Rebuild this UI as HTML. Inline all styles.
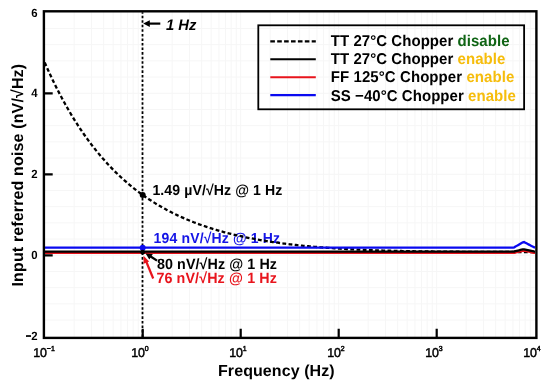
<!DOCTYPE html>
<html><head><meta charset="utf-8"><title>Input referred noise</title>
<style>
html,body{margin:0;padding:0;background:#fff;}
svg{display:block;text-rendering:geometricPrecision;font-family:'Liberation Sans', Arial, sans-serif;}
</style></head>
<body>
<svg width="550" height="386" viewBox="0 0 550 386">
<rect width="550" height="386" fill="#fff"/>
<path d="M74.20 11.3V337.9 M91.46 11.3V337.9 M103.70 11.3V337.9 M113.20 11.3V337.9 M120.96 11.3V337.9 M127.52 11.3V337.9 M133.20 11.3V337.9 M138.22 11.3V337.9 M142.70 11.3V337.9 M172.20 11.3V337.9 M189.46 11.3V337.9 M201.70 11.3V337.9 M211.20 11.3V337.9 M218.96 11.3V337.9 M225.52 11.3V337.9 M231.20 11.3V337.9 M236.22 11.3V337.9 M240.70 11.3V337.9 M270.20 11.3V337.9 M287.46 11.3V337.9 M299.70 11.3V337.9 M309.20 11.3V337.9 M316.96 11.3V337.9 M323.52 11.3V337.9 M329.20 11.3V337.9 M334.22 11.3V337.9 M338.70 11.3V337.9 M368.20 11.3V337.9 M385.46 11.3V337.9 M397.70 11.3V337.9 M407.20 11.3V337.9 M414.96 11.3V337.9 M421.52 11.3V337.9 M427.20 11.3V337.9 M432.22 11.3V337.9 M436.70 11.3V337.9 M466.20 11.3V337.9 M483.46 11.3V337.9 M495.70 11.3V337.9 M505.20 11.3V337.9 M512.96 11.3V337.9 M519.52 11.3V337.9 M525.20 11.3V337.9 M530.22 11.3V337.9 M43.9 320.10H536.4 M43.9 303.90H536.4 M43.9 287.70H536.4 M43.9 271.50H536.4 M43.9 255.30H536.4 M43.9 239.10H536.4 M43.9 222.90H536.4 M43.9 206.70H536.4 M43.9 190.50H536.4 M43.9 174.30H536.4 M43.9 158.10H536.4 M43.9 141.90H536.4 M43.9 125.70H536.4 M43.9 109.50H536.4 M43.9 93.30H536.4 M43.9 77.10H536.4 M43.9 60.90H536.4 M43.9 44.70H536.4 M43.9 28.50H536.4" stroke="#f6f6f6" stroke-width="1" fill="none"/>
<text transform="translate(152.40 195.00) scale(1 1.04)" font-size="14.1" font-weight="bold" textLength="130" lengthAdjust="spacing">1.49 µV/√Hz @ 1 Hz</text>
<text transform="translate(153.60 242.60) scale(1 1.04)" font-size="14" font-weight="bold" fill="#1414e6" textLength="126.5" lengthAdjust="spacing">194 nV/√Hz @ 1 Hz</text>
<text transform="translate(157.00 269.40) scale(1 1.04)" font-size="14.3" font-weight="bold" textLength="120" lengthAdjust="spacing">80 nV/√Hz @ 1 Hz</text>
<text transform="translate(156.40 283.40) scale(1 1.04)" font-size="14.3" font-weight="bold" fill="#e8141c" textLength="120.5" lengthAdjust="spacing">76 nV/√Hz @ 1 Hz</text>
<path d="M142.5 12.3V336.9" stroke="#000" stroke-width="1.8" stroke-dasharray="2.55 2.006" stroke-dashoffset="1.2" fill="none"/>
<path d="M44.70 62.51 L45.93 65.29 L47.15 68.03 L48.38 70.74 L49.60 73.40 L50.83 76.03 L52.06 78.62 L53.28 81.17 L54.51 83.68 L55.73 86.16 L56.96 88.60 L58.19 91.01 L59.41 93.38 L60.64 95.72 L61.86 98.02 L63.09 100.29 L64.32 102.53 L65.54 104.73 L66.77 106.91 L67.99 109.05 L69.22 111.16 L70.45 113.24 L71.67 115.29 L72.90 117.31 L74.12 119.30 L75.35 121.27 L76.58 123.20 L77.80 125.11 L79.03 126.99 L80.25 128.84 L81.48 130.66 L82.71 132.46 L83.93 134.23 L85.16 135.98 L86.38 137.70 L87.61 139.40 L88.84 141.07 L90.06 142.72 L91.29 144.34 L92.51 145.95 L93.74 147.52 L94.97 149.08 L96.19 150.61 L97.42 152.12 L98.64 153.61 L99.87 155.08 L101.10 156.52 L102.32 157.95 L103.55 159.35 L104.77 160.74 L106.00 162.10 L107.22 163.44 L108.45 164.77 L109.68 166.08 L110.90 167.36 L112.13 168.63 L113.35 169.88 L114.58 171.11 L115.81 172.33 L117.03 173.52 L118.26 174.70 L119.48 175.86 L120.71 177.01 L121.94 178.14 L123.16 179.25 L124.39 180.35 L125.61 181.43 L126.84 182.49 L128.07 183.54 L129.29 184.57 L130.52 185.59 L131.74 186.60 L132.97 187.59 L134.20 188.56 L135.42 189.53 L136.65 190.47 L137.87 191.41 L139.10 192.33 L140.33 193.23 L141.55 194.13 L142.78 195.01 L144.00 195.88 L145.23 196.73 L146.46 197.58 L147.68 198.41 L148.91 199.23 L150.13 200.03 L151.36 200.83 L152.59 201.61 L153.81 202.38 L155.04 203.15 L156.26 203.90 L157.49 204.64 L158.72 205.36 L159.94 206.08 L161.17 206.79 L162.39 207.49 L163.62 208.17 L164.85 208.85 L166.07 209.52 L167.30 210.18 L168.52 210.83 L169.75 211.46 L170.98 212.09 L172.20 212.71 L173.43 213.33 L174.65 213.93 L175.88 214.52 L177.11 215.11 L178.33 215.68 L179.56 216.25 L180.78 216.81 L182.01 217.36 L183.24 217.91 L184.46 218.44 L185.69 218.97 L186.91 219.49 L188.14 220.01 L189.37 220.51 L190.59 221.01 L191.82 221.50 L193.04 221.98 L194.27 222.46 L195.50 222.93 L196.72 223.39 L197.95 223.85 L199.17 224.30 L200.40 224.74 L201.63 225.18 L202.85 225.61 L204.08 226.03 L205.30 226.45 L206.53 226.86 L207.76 227.26 L208.98 227.66 L210.21 228.06 L211.43 228.44 L212.66 228.83 L213.89 229.20 L215.11 229.57 L216.34 229.94 L217.56 230.30 L218.79 230.66 L220.02 231.01 L221.24 231.35 L222.47 231.69 L223.69 232.02 L224.92 232.35 L226.15 232.68 L227.37 233.00 L228.60 233.31 L229.82 233.62 L231.05 233.93 L232.27 234.23 L233.50 234.53 L234.73 234.82 L235.95 235.11 L237.18 235.39 L238.40 235.67 L239.63 235.95 L240.86 236.22 L242.08 236.49 L243.31 236.75 L244.53 237.01 L245.76 237.27 L246.99 237.52 L248.21 237.77 L249.44 238.01 L250.66 238.25 L251.89 238.49 L253.12 238.72 L254.34 238.95 L255.57 239.18 L256.79 239.40 L258.02 239.62 L259.25 239.84 L260.47 240.05 L261.70 240.26 L262.92 240.47 L264.15 240.67 L265.38 240.88 L266.60 241.07 L267.83 241.27 L269.05 241.46 L270.28 241.65 L271.51 241.83 L272.73 242.02 L273.96 242.20 L275.18 242.38 L276.41 242.55 L277.64 242.72 L278.86 242.89 L280.09 243.06 L281.31 243.22 L282.54 243.38 L283.77 243.54 L284.99 243.70 L286.22 243.86 L287.44 244.01 L288.67 244.16 L289.90 244.30 L291.12 244.45 L292.35 244.59 L293.57 244.73 L294.80 244.87 L296.03 245.01 L297.25 245.14 L298.48 245.27 L299.70 245.40 L300.93 245.53 L302.16 245.65 L303.38 245.78 L304.61 245.90 L305.83 246.02 L307.06 246.14 L308.29 246.25 L309.51 246.37 L310.74 246.48 L311.96 246.59 L313.19 246.70 L314.42 246.80 L315.64 246.91 L316.87 247.01 L318.09 247.11 L319.32 247.21 L320.55 247.31 L321.77 247.41 L323.00 247.50 L324.22 247.59 L325.45 247.68 L326.68 247.77 L327.90 247.86 L329.13 247.95 L330.35 248.04 L331.58 248.12 L332.81 248.20 L334.03 248.28 L335.26 248.36 L336.48 248.44 L337.71 248.52 L338.94 248.59 L340.16 248.67 L341.39 248.74 L342.61 248.81 L343.84 248.88 L345.07 248.95 L346.29 249.02 L347.52 249.08 L348.74 249.15 L349.97 249.21 L351.19 249.28 L352.42 249.34 L353.65 249.40 L354.87 249.46 L356.10 249.52 L357.32 249.57 L358.55 249.63 L359.78 249.69 L361.00 249.74 L362.23 249.79 L363.45 249.84 L364.68 249.89 L365.91 249.94 L367.13 249.99 L368.36 250.04 L369.58 250.09 L370.81 250.13 L372.04 250.18 L373.26 250.22 L374.49 250.27 L375.71 250.31 L376.94 250.35 L378.17 250.39 L379.39 250.43 L380.62 250.47 L381.84 250.51 L383.07 250.55 L384.30 250.58 L385.52 250.62 L386.75 250.65 L387.97 250.69 L389.20 250.72 L390.43 250.75 L391.65 250.79 L392.88 250.82 L394.10 250.85 L395.33 250.88 L396.56 250.91 L397.78 250.94 L399.01 250.97 L400.23 250.99 L401.46 251.02 L402.69 251.05 L403.91 251.07 L405.14 251.10 L406.36 251.12 L407.59 251.15 L408.82 251.17 L410.04 251.19 L411.27 251.21 L412.49 251.24 L413.72 251.26 L414.95 251.28 L416.17 251.30 L417.40 251.32 L418.62 251.34 L419.85 251.36 L421.08 251.37 L422.30 251.39 L423.53 251.41 L424.75 251.43 L425.98 251.44 L427.21 251.46 L428.43 251.48 L429.66 251.49 L430.88 251.51 L432.11 251.52 L433.34 251.54 L434.56 251.55 L435.79 251.56 L437.01 251.58 L438.24 251.59 L439.47 251.60 L440.69 251.61 L441.92 251.63 L443.14 251.64 L444.37 251.65 L445.60 251.66 L446.82 251.67 L448.05 251.68 L449.27 251.69 L450.50 251.70 L451.73 251.71 L452.95 251.72 L454.18 251.73 L455.40 251.74 L456.63 251.75 L457.86 251.76 L459.08 251.77 L460.31 251.77 L461.53 251.78 L462.76 251.79 L463.99 251.80 L465.21 251.80 L466.44 251.81 L467.66 251.82 L468.89 251.82 L470.12 251.83 L471.34 251.84 L472.57 251.84 L473.79 251.85 L475.02 251.86 L476.24 251.86 L477.47 251.87 L478.70 251.87 L479.92 251.88 L481.15 251.88 L482.37 251.89 L483.60 251.89 L484.83 251.90 L486.05 251.90 L487.28 251.91 L488.50 251.91 L489.73 251.91 L490.96 251.92 L492.18 251.92 L493.41 251.93 L494.63 251.93 L495.86 251.93 L497.09 251.94 L498.31 251.94 L499.54 251.94 L500.76 251.95 L501.99 251.95 L503.22 251.95 L504.44 251.96 L505.67 251.96 L506.89 251.96 L508.12 251.97 L509.35 251.97 L510.57 251.97 L511.80 251.97 L513.02 251.98 L514.25 251.98 L515.48 251.98 L516.70 251.98 L517.93 251.98 L519.15 251.99 L520.38 251.99 L521.61 251.99 L522.83 251.99 L524.06 251.99 L525.28 252.00 L526.51 252.00 L527.74 252.00 L528.96 252.00 L530.19 252.00 L531.41 252.01 L532.64 252.01 L533.87 252.01 L535.09 252.01" stroke="#000" stroke-width="2.3" stroke-dasharray="3.8 2.4" fill="none"/>
<path d="M44.70 253.10 L45.93 253.10 L47.15 253.10 L48.38 253.10 L49.60 253.10 L50.83 253.10 L52.06 253.10 L53.28 253.10 L54.51 253.10 L55.73 253.10 L56.96 253.10 L58.19 253.10 L59.41 253.10 L60.64 253.10 L61.86 253.10 L63.09 253.10 L64.32 253.10 L65.54 253.10 L66.77 253.10 L67.99 253.10 L69.22 253.10 L70.45 253.10 L71.67 253.10 L72.90 253.10 L74.12 253.10 L75.35 253.10 L76.58 253.10 L77.80 253.10 L79.03 253.10 L80.25 253.10 L81.48 253.10 L82.71 253.10 L83.93 253.10 L85.16 253.10 L86.38 253.10 L87.61 253.10 L88.84 253.10 L90.06 253.10 L91.29 253.10 L92.51 253.10 L93.74 253.10 L94.97 253.10 L96.19 253.10 L97.42 253.10 L98.64 253.10 L99.87 253.10 L101.10 253.10 L102.32 253.10 L103.55 253.10 L104.77 253.10 L106.00 253.10 L107.22 253.10 L108.45 253.10 L109.68 253.10 L110.90 253.10 L112.13 253.10 L113.35 253.10 L114.58 253.10 L115.81 253.10 L117.03 253.10 L118.26 253.10 L119.48 253.10 L120.71 253.10 L121.94 253.10 L123.16 253.10 L124.39 253.10 L125.61 253.10 L126.84 253.10 L128.07 253.10 L129.29 253.10 L130.52 253.10 L131.74 253.10 L132.97 253.10 L134.20 253.10 L135.42 253.10 L136.65 253.10 L137.87 253.10 L139.10 253.10 L140.33 253.10 L141.55 253.10 L142.78 253.10 L144.00 253.10 L145.23 253.10 L146.46 253.10 L147.68 253.10 L148.91 253.10 L150.13 253.10 L151.36 253.10 L152.59 253.10 L153.81 253.10 L155.04 253.10 L156.26 253.10 L157.49 253.10 L158.72 253.10 L159.94 253.10 L161.17 253.10 L162.39 253.10 L163.62 253.10 L164.85 253.10 L166.07 253.10 L167.30 253.10 L168.52 253.10 L169.75 253.10 L170.98 253.10 L172.20 253.10 L173.43 253.10 L174.65 253.10 L175.88 253.10 L177.11 253.10 L178.33 253.10 L179.56 253.10 L180.78 253.10 L182.01 253.10 L183.24 253.10 L184.46 253.10 L185.69 253.10 L186.91 253.10 L188.14 253.10 L189.37 253.10 L190.59 253.10 L191.82 253.10 L193.04 253.10 L194.27 253.10 L195.50 253.10 L196.72 253.10 L197.95 253.10 L199.17 253.10 L200.40 253.10 L201.63 253.10 L202.85 253.10 L204.08 253.10 L205.30 253.10 L206.53 253.10 L207.76 253.10 L208.98 253.10 L210.21 253.10 L211.43 253.10 L212.66 253.10 L213.89 253.10 L215.11 253.10 L216.34 253.10 L217.56 253.10 L218.79 253.10 L220.02 253.10 L221.24 253.10 L222.47 253.10 L223.69 253.10 L224.92 253.10 L226.15 253.10 L227.37 253.10 L228.60 253.10 L229.82 253.10 L231.05 253.10 L232.27 253.10 L233.50 253.10 L234.73 253.10 L235.95 253.10 L237.18 253.10 L238.40 253.10 L239.63 253.10 L240.86 253.10 L242.08 253.10 L243.31 253.10 L244.53 253.10 L245.76 253.10 L246.99 253.10 L248.21 253.10 L249.44 253.10 L250.66 253.10 L251.89 253.10 L253.12 253.10 L254.34 253.10 L255.57 253.10 L256.79 253.10 L258.02 253.10 L259.25 253.10 L260.47 253.10 L261.70 253.10 L262.92 253.10 L264.15 253.10 L265.38 253.10 L266.60 253.10 L267.83 253.10 L269.05 253.10 L270.28 253.10 L271.51 253.10 L272.73 253.10 L273.96 253.10 L275.18 253.10 L276.41 253.10 L277.64 253.10 L278.86 253.10 L280.09 253.10 L281.31 253.10 L282.54 253.10 L283.77 253.10 L284.99 253.10 L286.22 253.10 L287.44 253.10 L288.67 253.10 L289.90 253.10 L291.12 253.10 L292.35 253.10 L293.57 253.10 L294.80 253.10 L296.03 253.10 L297.25 253.10 L298.48 253.10 L299.70 253.10 L300.93 253.10 L302.16 253.10 L303.38 253.10 L304.61 253.10 L305.83 253.10 L307.06 253.10 L308.29 253.10 L309.51 253.10 L310.74 253.10 L311.96 253.10 L313.19 253.10 L314.42 253.10 L315.64 253.10 L316.87 253.10 L318.09 253.10 L319.32 253.10 L320.55 253.10 L321.77 253.10 L323.00 253.10 L324.22 253.10 L325.45 253.10 L326.68 253.10 L327.90 253.10 L329.13 253.10 L330.35 253.10 L331.58 253.10 L332.81 253.10 L334.03 253.10 L335.26 253.10 L336.48 253.10 L337.71 253.10 L338.94 253.10 L340.16 253.10 L341.39 253.10 L342.61 253.10 L343.84 253.10 L345.07 253.10 L346.29 253.10 L347.52 253.10 L348.74 253.10 L349.97 253.10 L351.19 253.10 L352.42 253.10 L353.65 253.10 L354.87 253.10 L356.10 253.10 L357.32 253.10 L358.55 253.10 L359.78 253.10 L361.00 253.10 L362.23 253.10 L363.45 253.10 L364.68 253.10 L365.91 253.10 L367.13 253.10 L368.36 253.10 L369.58 253.10 L370.81 253.10 L372.04 253.10 L373.26 253.10 L374.49 253.10 L375.71 253.10 L376.94 253.10 L378.17 253.10 L379.39 253.10 L380.62 253.10 L381.84 253.10 L383.07 253.10 L384.30 253.10 L385.52 253.10 L386.75 253.10 L387.97 253.10 L389.20 253.10 L390.43 253.10 L391.65 253.10 L392.88 253.10 L394.10 253.10 L395.33 253.10 L396.56 253.10 L397.78 253.10 L399.01 253.10 L400.23 253.10 L401.46 253.10 L402.69 253.10 L403.91 253.10 L405.14 253.10 L406.36 253.10 L407.59 253.10 L408.82 253.10 L410.04 253.10 L411.27 253.10 L412.49 253.10 L413.72 253.10 L414.95 253.10 L416.17 253.10 L417.40 253.10 L418.62 253.10 L419.85 253.10 L421.08 253.10 L422.30 253.10 L423.53 253.10 L424.75 253.10 L425.98 253.10 L427.21 253.10 L428.43 253.10 L429.66 253.10 L430.88 253.10 L432.11 253.10 L433.34 253.10 L434.56 253.10 L435.79 253.10 L437.01 253.10 L438.24 253.10 L439.47 253.10 L440.69 253.10 L441.92 253.10 L443.14 253.10 L444.37 253.10 L445.60 253.10 L446.82 253.10 L448.05 253.10 L449.27 253.10 L450.50 253.10 L451.73 253.10 L452.95 253.10 L454.18 253.10 L455.40 253.10 L456.63 253.10 L457.86 253.10 L459.08 253.10 L460.31 253.10 L461.53 253.10 L462.76 253.10 L463.99 253.10 L465.21 253.10 L466.44 253.10 L467.66 253.10 L468.89 253.10 L470.12 253.10 L471.34 253.10 L472.57 253.10 L473.79 253.10 L475.02 253.10 L476.24 253.10 L477.47 253.10 L478.70 253.10 L479.92 253.10 L481.15 253.10 L482.37 253.10 L483.60 253.10 L484.83 253.10 L486.05 253.10 L487.28 253.10 L488.50 253.10 L489.73 253.10 L490.96 253.10 L492.18 253.10 L493.41 253.10 L494.63 253.10 L495.86 253.10 L497.09 253.10 L498.31 253.10 L499.54 253.10 L500.76 253.10 L501.99 253.10 L503.22 253.10 L504.44 253.10 L505.67 253.10 L506.89 253.10 L508.12 253.10 L509.35 253.10 L510.57 253.10 L511.80 253.10 L513.02 253.10 L514.25 252.99 L515.48 252.69 L516.70 252.39 L517.93 252.09 L519.15 251.79 L520.38 251.49 L521.61 251.19 L522.83 250.89 L524.06 250.80 L525.28 251.07 L526.51 251.33 L527.74 251.60 L528.96 251.87 L530.19 252.14 L531.41 252.40 L532.64 252.67 L533.87 252.94 L535.09 253.10" stroke="#e8141c" stroke-width="2.0" fill="none"/>
<path d="M44.70 251.60 L45.93 251.60 L47.15 251.60 L48.38 251.60 L49.60 251.60 L50.83 251.60 L52.06 251.60 L53.28 251.60 L54.51 251.60 L55.73 251.60 L56.96 251.60 L58.19 251.60 L59.41 251.60 L60.64 251.60 L61.86 251.60 L63.09 251.60 L64.32 251.60 L65.54 251.60 L66.77 251.60 L67.99 251.60 L69.22 251.60 L70.45 251.60 L71.67 251.60 L72.90 251.60 L74.12 251.60 L75.35 251.60 L76.58 251.60 L77.80 251.60 L79.03 251.60 L80.25 251.60 L81.48 251.60 L82.71 251.60 L83.93 251.60 L85.16 251.60 L86.38 251.60 L87.61 251.60 L88.84 251.60 L90.06 251.60 L91.29 251.60 L92.51 251.60 L93.74 251.60 L94.97 251.60 L96.19 251.60 L97.42 251.60 L98.64 251.60 L99.87 251.60 L101.10 251.60 L102.32 251.60 L103.55 251.60 L104.77 251.60 L106.00 251.60 L107.22 251.60 L108.45 251.60 L109.68 251.60 L110.90 251.60 L112.13 251.60 L113.35 251.60 L114.58 251.60 L115.81 251.60 L117.03 251.60 L118.26 251.60 L119.48 251.60 L120.71 251.60 L121.94 251.60 L123.16 251.60 L124.39 251.60 L125.61 251.60 L126.84 251.60 L128.07 251.60 L129.29 251.60 L130.52 251.60 L131.74 251.60 L132.97 251.60 L134.20 251.60 L135.42 251.60 L136.65 251.60 L137.87 251.60 L139.10 251.60 L140.33 251.60 L141.55 251.60 L142.78 251.60 L144.00 251.60 L145.23 251.60 L146.46 251.60 L147.68 251.60 L148.91 251.60 L150.13 251.60 L151.36 251.60 L152.59 251.60 L153.81 251.60 L155.04 251.60 L156.26 251.60 L157.49 251.60 L158.72 251.60 L159.94 251.60 L161.17 251.60 L162.39 251.60 L163.62 251.60 L164.85 251.60 L166.07 251.60 L167.30 251.60 L168.52 251.60 L169.75 251.60 L170.98 251.60 L172.20 251.60 L173.43 251.60 L174.65 251.60 L175.88 251.60 L177.11 251.60 L178.33 251.60 L179.56 251.60 L180.78 251.60 L182.01 251.60 L183.24 251.60 L184.46 251.60 L185.69 251.60 L186.91 251.60 L188.14 251.60 L189.37 251.60 L190.59 251.60 L191.82 251.60 L193.04 251.60 L194.27 251.60 L195.50 251.60 L196.72 251.60 L197.95 251.60 L199.17 251.60 L200.40 251.60 L201.63 251.60 L202.85 251.60 L204.08 251.60 L205.30 251.60 L206.53 251.60 L207.76 251.60 L208.98 251.60 L210.21 251.60 L211.43 251.60 L212.66 251.60 L213.89 251.60 L215.11 251.60 L216.34 251.60 L217.56 251.60 L218.79 251.60 L220.02 251.60 L221.24 251.60 L222.47 251.60 L223.69 251.60 L224.92 251.60 L226.15 251.60 L227.37 251.60 L228.60 251.60 L229.82 251.60 L231.05 251.60 L232.27 251.60 L233.50 251.60 L234.73 251.60 L235.95 251.60 L237.18 251.60 L238.40 251.60 L239.63 251.60 L240.86 251.60 L242.08 251.60 L243.31 251.60 L244.53 251.60 L245.76 251.60 L246.99 251.60 L248.21 251.60 L249.44 251.60 L250.66 251.60 L251.89 251.60 L253.12 251.60 L254.34 251.60 L255.57 251.60 L256.79 251.60 L258.02 251.60 L259.25 251.60 L260.47 251.60 L261.70 251.60 L262.92 251.60 L264.15 251.60 L265.38 251.60 L266.60 251.60 L267.83 251.60 L269.05 251.60 L270.28 251.60 L271.51 251.60 L272.73 251.60 L273.96 251.60 L275.18 251.60 L276.41 251.60 L277.64 251.60 L278.86 251.60 L280.09 251.60 L281.31 251.60 L282.54 251.60 L283.77 251.60 L284.99 251.60 L286.22 251.60 L287.44 251.60 L288.67 251.60 L289.90 251.60 L291.12 251.60 L292.35 251.60 L293.57 251.60 L294.80 251.60 L296.03 251.60 L297.25 251.60 L298.48 251.60 L299.70 251.60 L300.93 251.60 L302.16 251.60 L303.38 251.60 L304.61 251.60 L305.83 251.60 L307.06 251.60 L308.29 251.60 L309.51 251.60 L310.74 251.60 L311.96 251.60 L313.19 251.60 L314.42 251.60 L315.64 251.60 L316.87 251.60 L318.09 251.60 L319.32 251.60 L320.55 251.60 L321.77 251.60 L323.00 251.60 L324.22 251.60 L325.45 251.60 L326.68 251.60 L327.90 251.60 L329.13 251.60 L330.35 251.60 L331.58 251.60 L332.81 251.60 L334.03 251.60 L335.26 251.60 L336.48 251.60 L337.71 251.60 L338.94 251.60 L340.16 251.60 L341.39 251.60 L342.61 251.60 L343.84 251.60 L345.07 251.60 L346.29 251.60 L347.52 251.60 L348.74 251.60 L349.97 251.60 L351.19 251.60 L352.42 251.60 L353.65 251.60 L354.87 251.60 L356.10 251.60 L357.32 251.60 L358.55 251.60 L359.78 251.60 L361.00 251.60 L362.23 251.60 L363.45 251.60 L364.68 251.60 L365.91 251.60 L367.13 251.60 L368.36 251.60 L369.58 251.60 L370.81 251.60 L372.04 251.60 L373.26 251.60 L374.49 251.60 L375.71 251.60 L376.94 251.60 L378.17 251.60 L379.39 251.60 L380.62 251.60 L381.84 251.60 L383.07 251.60 L384.30 251.60 L385.52 251.60 L386.75 251.60 L387.97 251.60 L389.20 251.60 L390.43 251.60 L391.65 251.60 L392.88 251.60 L394.10 251.60 L395.33 251.60 L396.56 251.60 L397.78 251.60 L399.01 251.60 L400.23 251.60 L401.46 251.60 L402.69 251.60 L403.91 251.60 L405.14 251.60 L406.36 251.60 L407.59 251.60 L408.82 251.60 L410.04 251.60 L411.27 251.60 L412.49 251.60 L413.72 251.60 L414.95 251.60 L416.17 251.60 L417.40 251.60 L418.62 251.60 L419.85 251.60 L421.08 251.60 L422.30 251.60 L423.53 251.60 L424.75 251.60 L425.98 251.60 L427.21 251.60 L428.43 251.60 L429.66 251.60 L430.88 251.60 L432.11 251.60 L433.34 251.60 L434.56 251.60 L435.79 251.60 L437.01 251.60 L438.24 251.60 L439.47 251.60 L440.69 251.60 L441.92 251.60 L443.14 251.60 L444.37 251.60 L445.60 251.60 L446.82 251.60 L448.05 251.60 L449.27 251.60 L450.50 251.60 L451.73 251.60 L452.95 251.60 L454.18 251.60 L455.40 251.60 L456.63 251.60 L457.86 251.60 L459.08 251.60 L460.31 251.60 L461.53 251.60 L462.76 251.60 L463.99 251.60 L465.21 251.60 L466.44 251.60 L467.66 251.60 L468.89 251.60 L470.12 251.60 L471.34 251.60 L472.57 251.60 L473.79 251.60 L475.02 251.60 L476.24 251.60 L477.47 251.60 L478.70 251.60 L479.92 251.60 L481.15 251.60 L482.37 251.60 L483.60 251.60 L484.83 251.60 L486.05 251.60 L487.28 251.60 L488.50 251.60 L489.73 251.60 L490.96 251.60 L492.18 251.60 L493.41 251.60 L494.63 251.60 L495.86 251.60 L497.09 251.60 L498.31 251.60 L499.54 251.60 L500.76 251.60 L501.99 251.60 L503.22 251.60 L504.44 251.60 L505.67 251.60 L506.89 251.60 L508.12 251.60 L509.35 251.60 L510.57 251.60 L511.80 251.60 L513.02 251.60 L514.25 251.49 L515.48 251.19 L516.70 250.89 L517.93 250.59 L519.15 250.29 L520.38 249.99 L521.61 249.69 L522.83 249.39 L524.06 249.30 L525.28 249.57 L526.51 249.83 L527.74 250.10 L528.96 250.37 L530.19 250.64 L531.41 250.90 L532.64 251.17 L533.87 251.44 L535.09 251.60" stroke="#000" stroke-width="2.3" fill="none"/>
<path d="M44.70 247.60 L45.93 247.60 L47.15 247.60 L48.38 247.60 L49.60 247.60 L50.83 247.60 L52.06 247.60 L53.28 247.60 L54.51 247.60 L55.73 247.60 L56.96 247.60 L58.19 247.60 L59.41 247.60 L60.64 247.60 L61.86 247.60 L63.09 247.60 L64.32 247.60 L65.54 247.60 L66.77 247.60 L67.99 247.60 L69.22 247.60 L70.45 247.60 L71.67 247.60 L72.90 247.60 L74.12 247.60 L75.35 247.60 L76.58 247.60 L77.80 247.60 L79.03 247.60 L80.25 247.60 L81.48 247.60 L82.71 247.60 L83.93 247.60 L85.16 247.60 L86.38 247.60 L87.61 247.60 L88.84 247.60 L90.06 247.60 L91.29 247.60 L92.51 247.60 L93.74 247.60 L94.97 247.60 L96.19 247.60 L97.42 247.60 L98.64 247.60 L99.87 247.60 L101.10 247.60 L102.32 247.60 L103.55 247.60 L104.77 247.60 L106.00 247.60 L107.22 247.60 L108.45 247.60 L109.68 247.60 L110.90 247.60 L112.13 247.60 L113.35 247.60 L114.58 247.60 L115.81 247.60 L117.03 247.60 L118.26 247.60 L119.48 247.60 L120.71 247.60 L121.94 247.60 L123.16 247.60 L124.39 247.60 L125.61 247.60 L126.84 247.60 L128.07 247.60 L129.29 247.60 L130.52 247.60 L131.74 247.60 L132.97 247.60 L134.20 247.60 L135.42 247.60 L136.65 247.60 L137.87 247.60 L139.10 247.60 L140.33 247.60 L141.55 247.60 L142.78 247.60 L144.00 247.60 L145.23 247.60 L146.46 247.60 L147.68 247.60 L148.91 247.60 L150.13 247.60 L151.36 247.60 L152.59 247.60 L153.81 247.60 L155.04 247.60 L156.26 247.60 L157.49 247.60 L158.72 247.60 L159.94 247.60 L161.17 247.60 L162.39 247.60 L163.62 247.60 L164.85 247.60 L166.07 247.60 L167.30 247.60 L168.52 247.60 L169.75 247.60 L170.98 247.60 L172.20 247.60 L173.43 247.60 L174.65 247.60 L175.88 247.60 L177.11 247.60 L178.33 247.60 L179.56 247.60 L180.78 247.60 L182.01 247.60 L183.24 247.60 L184.46 247.60 L185.69 247.60 L186.91 247.60 L188.14 247.60 L189.37 247.60 L190.59 247.60 L191.82 247.60 L193.04 247.60 L194.27 247.60 L195.50 247.60 L196.72 247.60 L197.95 247.60 L199.17 247.60 L200.40 247.60 L201.63 247.60 L202.85 247.60 L204.08 247.60 L205.30 247.60 L206.53 247.60 L207.76 247.60 L208.98 247.60 L210.21 247.60 L211.43 247.60 L212.66 247.60 L213.89 247.60 L215.11 247.60 L216.34 247.60 L217.56 247.60 L218.79 247.60 L220.02 247.60 L221.24 247.60 L222.47 247.60 L223.69 247.60 L224.92 247.60 L226.15 247.60 L227.37 247.60 L228.60 247.60 L229.82 247.60 L231.05 247.60 L232.27 247.60 L233.50 247.60 L234.73 247.60 L235.95 247.60 L237.18 247.60 L238.40 247.60 L239.63 247.60 L240.86 247.60 L242.08 247.60 L243.31 247.60 L244.53 247.60 L245.76 247.60 L246.99 247.60 L248.21 247.60 L249.44 247.60 L250.66 247.60 L251.89 247.60 L253.12 247.60 L254.34 247.60 L255.57 247.60 L256.79 247.60 L258.02 247.60 L259.25 247.60 L260.47 247.60 L261.70 247.60 L262.92 247.60 L264.15 247.60 L265.38 247.60 L266.60 247.60 L267.83 247.60 L269.05 247.60 L270.28 247.60 L271.51 247.60 L272.73 247.60 L273.96 247.60 L275.18 247.60 L276.41 247.60 L277.64 247.60 L278.86 247.60 L280.09 247.60 L281.31 247.60 L282.54 247.60 L283.77 247.60 L284.99 247.60 L286.22 247.60 L287.44 247.60 L288.67 247.60 L289.90 247.60 L291.12 247.60 L292.35 247.60 L293.57 247.60 L294.80 247.60 L296.03 247.60 L297.25 247.60 L298.48 247.60 L299.70 247.60 L300.93 247.60 L302.16 247.60 L303.38 247.60 L304.61 247.60 L305.83 247.60 L307.06 247.60 L308.29 247.60 L309.51 247.60 L310.74 247.60 L311.96 247.60 L313.19 247.60 L314.42 247.60 L315.64 247.60 L316.87 247.60 L318.09 247.60 L319.32 247.60 L320.55 247.60 L321.77 247.60 L323.00 247.60 L324.22 247.60 L325.45 247.60 L326.68 247.60 L327.90 247.60 L329.13 247.60 L330.35 247.60 L331.58 247.60 L332.81 247.60 L334.03 247.60 L335.26 247.60 L336.48 247.60 L337.71 247.60 L338.94 247.60 L340.16 247.60 L341.39 247.60 L342.61 247.60 L343.84 247.60 L345.07 247.60 L346.29 247.60 L347.52 247.60 L348.74 247.60 L349.97 247.60 L351.19 247.60 L352.42 247.60 L353.65 247.60 L354.87 247.60 L356.10 247.60 L357.32 247.60 L358.55 247.60 L359.78 247.60 L361.00 247.60 L362.23 247.60 L363.45 247.60 L364.68 247.60 L365.91 247.60 L367.13 247.60 L368.36 247.60 L369.58 247.60 L370.81 247.60 L372.04 247.60 L373.26 247.60 L374.49 247.60 L375.71 247.60 L376.94 247.60 L378.17 247.60 L379.39 247.60 L380.62 247.60 L381.84 247.60 L383.07 247.60 L384.30 247.60 L385.52 247.60 L386.75 247.60 L387.97 247.60 L389.20 247.60 L390.43 247.60 L391.65 247.60 L392.88 247.60 L394.10 247.60 L395.33 247.60 L396.56 247.60 L397.78 247.60 L399.01 247.60 L400.23 247.60 L401.46 247.60 L402.69 247.60 L403.91 247.60 L405.14 247.60 L406.36 247.60 L407.59 247.60 L408.82 247.60 L410.04 247.60 L411.27 247.60 L412.49 247.60 L413.72 247.60 L414.95 247.60 L416.17 247.60 L417.40 247.60 L418.62 247.60 L419.85 247.60 L421.08 247.60 L422.30 247.60 L423.53 247.60 L424.75 247.60 L425.98 247.60 L427.21 247.60 L428.43 247.60 L429.66 247.60 L430.88 247.60 L432.11 247.60 L433.34 247.60 L434.56 247.60 L435.79 247.60 L437.01 247.60 L438.24 247.60 L439.47 247.60 L440.69 247.60 L441.92 247.60 L443.14 247.60 L444.37 247.60 L445.60 247.60 L446.82 247.60 L448.05 247.60 L449.27 247.60 L450.50 247.60 L451.73 247.60 L452.95 247.60 L454.18 247.60 L455.40 247.60 L456.63 247.60 L457.86 247.60 L459.08 247.60 L460.31 247.60 L461.53 247.60 L462.76 247.60 L463.99 247.60 L465.21 247.60 L466.44 247.60 L467.66 247.60 L468.89 247.60 L470.12 247.60 L471.34 247.60 L472.57 247.60 L473.79 247.60 L475.02 247.60 L476.24 247.60 L477.47 247.60 L478.70 247.60 L479.92 247.60 L481.15 247.60 L482.37 247.60 L483.60 247.60 L484.83 247.60 L486.05 247.60 L487.28 247.60 L488.50 247.60 L489.73 247.60 L490.96 247.60 L492.18 247.60 L493.41 247.60 L494.63 247.60 L495.86 247.60 L497.09 247.60 L498.31 247.60 L499.54 247.60 L500.76 247.60 L501.99 247.60 L503.22 247.60 L504.44 247.60 L505.67 247.60 L506.89 247.60 L508.12 247.60 L509.35 247.60 L510.57 247.60 L511.80 247.60 L513.02 247.60 L514.25 247.33 L515.48 246.61 L516.70 245.88 L517.93 245.16 L519.15 244.43 L520.38 243.71 L521.61 242.98 L522.83 242.25 L524.06 242.04 L525.28 242.69 L526.51 243.33 L527.74 243.98 L528.96 244.63 L530.19 245.27 L531.41 245.92 L532.64 246.57 L533.87 247.21 L535.09 247.60" stroke="#0a0af0" stroke-width="2.3" fill="none"/>
<circle cx="142.70" cy="194.96" r="3" fill="#000"/>
<circle cx="142.70" cy="247.8" r="3" fill="#0a0af0"/>
<circle cx="142.70" cy="252.2" r="2.4" fill="#000"/>
<rect x="43.9" y="11.3" width="492.5" height="326.6" fill="none" stroke="#000" stroke-width="2.4"/>
<path d="M43.9 255.30H52.7 M43.9 174.30H52.7 M43.9 93.30H52.7 M142.70 337.9V328.7 M240.70 337.9V328.7 M338.70 337.9V328.7 M436.70 337.9V328.7" stroke="#000" stroke-width="2.2" fill="none"/>
<text transform="translate(37.70 16.60) scale(1 1.04)" font-size="11.4" font-weight="bold" text-anchor="end">6</text>
<text transform="translate(37.70 97.20) scale(1 1.04)" font-size="11.4" font-weight="bold" text-anchor="end">4</text>
<text transform="translate(37.70 178.20) scale(1 1.04)" font-size="11.4" font-weight="bold" text-anchor="end">2</text>
<text transform="translate(37.70 259.20) scale(1 1.04)" font-size="11.4" font-weight="bold" text-anchor="end">0</text>
<text transform="translate(37.70 340.20) scale(1 1.04)" font-size="11.4" font-weight="bold" text-anchor="end"><tspan font-size="8.6" dy="-1.1" stroke="#000" stroke-width="0.7">−</tspan><tspan dy="1.1" dx="0.3">2</tspan></text>
<text transform="translate(33.20 356.80) scale(1 1.04)" font-size="12.4" stroke="#000" stroke-width="0.45">10<tspan dx="-0.2" dy="-6" font-size="7.0">−1</tspan></text>
<text transform="translate(131.20 356.80) scale(1 1.04)" font-size="12.4" stroke="#000" stroke-width="0.45">10<tspan dx="-0.2" dy="-6" font-size="7.0">0</tspan></text>
<text transform="translate(229.20 356.80) scale(1 1.04)" font-size="12.4" stroke="#000" stroke-width="0.45">10<tspan dx="-0.2" dy="-6" font-size="7.0">1</tspan></text>
<text transform="translate(327.20 356.80) scale(1 1.04)" font-size="12.4" stroke="#000" stroke-width="0.45">10<tspan dx="-0.2" dy="-6" font-size="7.0">2</tspan></text>
<text transform="translate(425.20 356.80) scale(1 1.04)" font-size="12.4" stroke="#000" stroke-width="0.45">10<tspan dx="-0.2" dy="-6" font-size="7.0">3</tspan></text>
<text transform="translate(523.20 356.80) scale(1 1.04)" font-size="12.4" stroke="#000" stroke-width="0.45">10<tspan dx="-0.2" dy="-6" font-size="7.0">4</tspan></text>
<text transform="translate(218.00 376.20) scale(1 1.0)" font-size="16" font-weight="bold" textLength="116.6" lengthAdjust="spacing">Frequency (Hz)</text>
<text transform="translate(22.6 286.5) rotate(-90)" font-size="16" font-weight="bold" textLength="222.6" lengthAdjust="spacing">Input referred noise (nV/√Hz)</text>
<rect x="258.3" y="25.3" width="265.8" height="84.0" fill="none" stroke="#000" stroke-width="1.8"/>
<path d="M270.3 41.4H315.8" stroke="#000" stroke-dasharray="4.6 2.3" stroke-width="2.1" fill="none"/>
<text transform="translate(330.80 45.90) scale(1 1.04)" font-size="15" font-weight="bold" textLength="178.7" lengthAdjust="spacing">TT 27°C Chopper <tspan fill="#0f6414">disable</tspan></text>
<path d="M270.3 59.3H315.8" stroke="#000" stroke-width="2.1" fill="none"/>
<text transform="translate(330.80 64.20) scale(1 1.04)" font-size="15" font-weight="bold" textLength="174.5" lengthAdjust="spacing">TT 27°C Chopper <tspan fill="#f6bd0c">enable</tspan></text>
<path d="M270.3 77.2H315.8" stroke="#e8141c" stroke-width="2.1" fill="none"/>
<text transform="translate(330.80 82.20) scale(1 1.04)" font-size="15" font-weight="bold" textLength="183.5" lengthAdjust="spacing">FF 125°C Chopper <tspan fill="#f6bd0c">enable</tspan></text>
<path d="M270.3 95.1H315.8" stroke="#0a0af0" stroke-width="2.1" fill="none"/>
<text transform="translate(330.80 100.90) scale(1 1.04)" font-size="15" font-weight="bold" textLength="185.0" lengthAdjust="spacing">SS −40°C Chopper <tspan fill="#f6bd0c">enable</tspan></text>
<path d="M160.3 23.6H148" stroke="#000" stroke-width="2.2" fill="none"/>
<path d="M143.2 23.6L149.8 20.3L149.8 26.9Z" fill="#000"/>
<text transform="translate(165.90 29.90) scale(1 1.04)" font-size="14.8" font-weight="bold" font-style="italic">1 Hz</text>
<path d="M157 260.6L149.5 255.8" stroke="#000" stroke-width="2.3" fill="none"/>
<path d="M145.6 253.4L152.8 254.1L149.3 259.6Z" fill="#000"/>
<path d="M153.2 278.5L146 261" stroke="#e8141c" stroke-width="2.2" fill="none"/>
<path d="M143.5 255.8L149.2 261.6L143.6 263.8Z" fill="#e8141c"/>
</svg>
</body></html>
